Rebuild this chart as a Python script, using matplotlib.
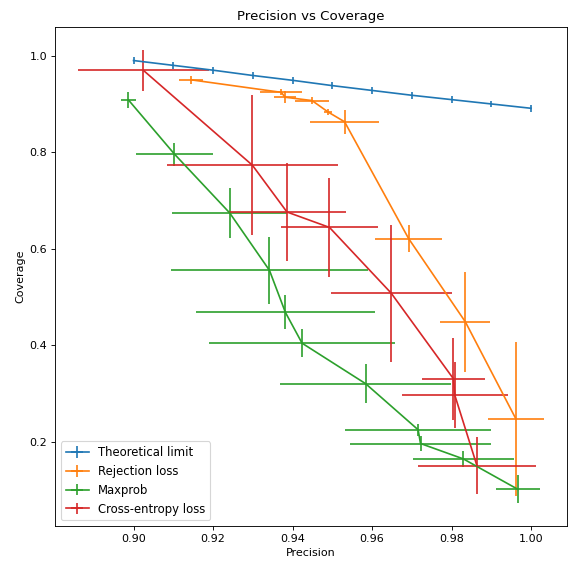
import matplotlib
matplotlib.use("Agg")
import matplotlib.pyplot as plt

# Theoretical limit
theo_prec = [0.900, 0.910, 0.920, 0.930, 0.940, 0.950, 0.960, 0.970, 0.980, 0.990, 1.000]
theo_cov = [0.990, 0.980, 0.970, 0.959, 0.949, 0.938, 0.928, 0.918, 0.909, 0.900, 0.891]
theo_prec_err = [0.0] * 11
theo_cov_err = [0.007] * 11

# Rejection loss
rej_prec = [0.9145, 0.9372, 0.9381, 0.9449, 0.9490, 0.9531, 0.9692, 0.9835, 0.9962]
rej_cov = [0.950, 0.924, 0.914, 0.907, 0.883, 0.863, 0.621, 0.448, 0.247]
rej_prec_err = [0.0031, 0.0053, 0.0027, 0.0044, 0.0010, 0.0086, 0.0085, 0.0063, 0.0070]
rej_cov_err = [0.008, 0.006, 0.012, 0.007, 0.006, 0.025, 0.027, 0.104, 0.159]

# Maxprob
mp_prec = [0.8987, 0.9103, 0.9242, 0.9342, 0.9382, 0.9424, 0.9584, 0.9716, 0.9722, 0.9830, 0.9967]
mp_cov = [0.9085, 0.796, 0.674, 0.555, 0.468, 0.404, 0.320, 0.2245, 0.196, 0.164, 0.101]
mp_prec_err = [0.0018, 0.0097, 0.0145, 0.0248, 0.0226, 0.0234, 0.0215, 0.0184, 0.0178, 0.0128, 0.0055]
mp_cov_err = [0.016, 0.024, 0.052, 0.070, 0.035, 0.029, 0.040, 0.012, 0.016, 0.016, 0.029]

# Cross-entropy loss
ce_prec = [0.9025, 0.9299, 0.9386, 0.9493, 0.9648, 0.9805, 0.9808, 0.9864]
ce_cov = [0.9695, 0.773, 0.676, 0.644, 0.508, 0.330, 0.297, 0.150]
ce_prec_err = [0.0164, 0.0215, 0.0148, 0.0121, 0.0152, 0.0080, 0.0133, 0.0148]
ce_cov_err = [0.043, 0.1455, 0.101, 0.102, 0.142, 0.085, 0.068, 0.059]

dpi = 80
fig = plt.figure(figsize=(578 / dpi, 571 / dpi), dpi=dpi)
ax = fig.add_axes([55 / 578, 45 / 571, 512 / 578, 499 / 571])

ax.errorbar(theo_prec, theo_cov, xerr=theo_prec_err, yerr=theo_cov_err, label="Theoretical limit")
ax.errorbar(rej_prec, rej_cov, xerr=rej_prec_err, yerr=rej_cov_err, label="Rejection loss")
ax.errorbar(mp_prec, mp_cov, xerr=mp_prec_err, yerr=mp_cov_err, label="Maxprob")
ax.errorbar(ce_prec, ce_cov, xerr=ce_prec_err, yerr=ce_cov_err, label="Cross-entropy loss")

ax.set_title("Precision vs Coverage", fontsize=12)
ax.set_xlabel("Precision")
ax.set_ylabel("Coverage")
ax.legend(loc="lower left", fontsize=10.5)

fig.savefig("out.png", dpi=dpi)
